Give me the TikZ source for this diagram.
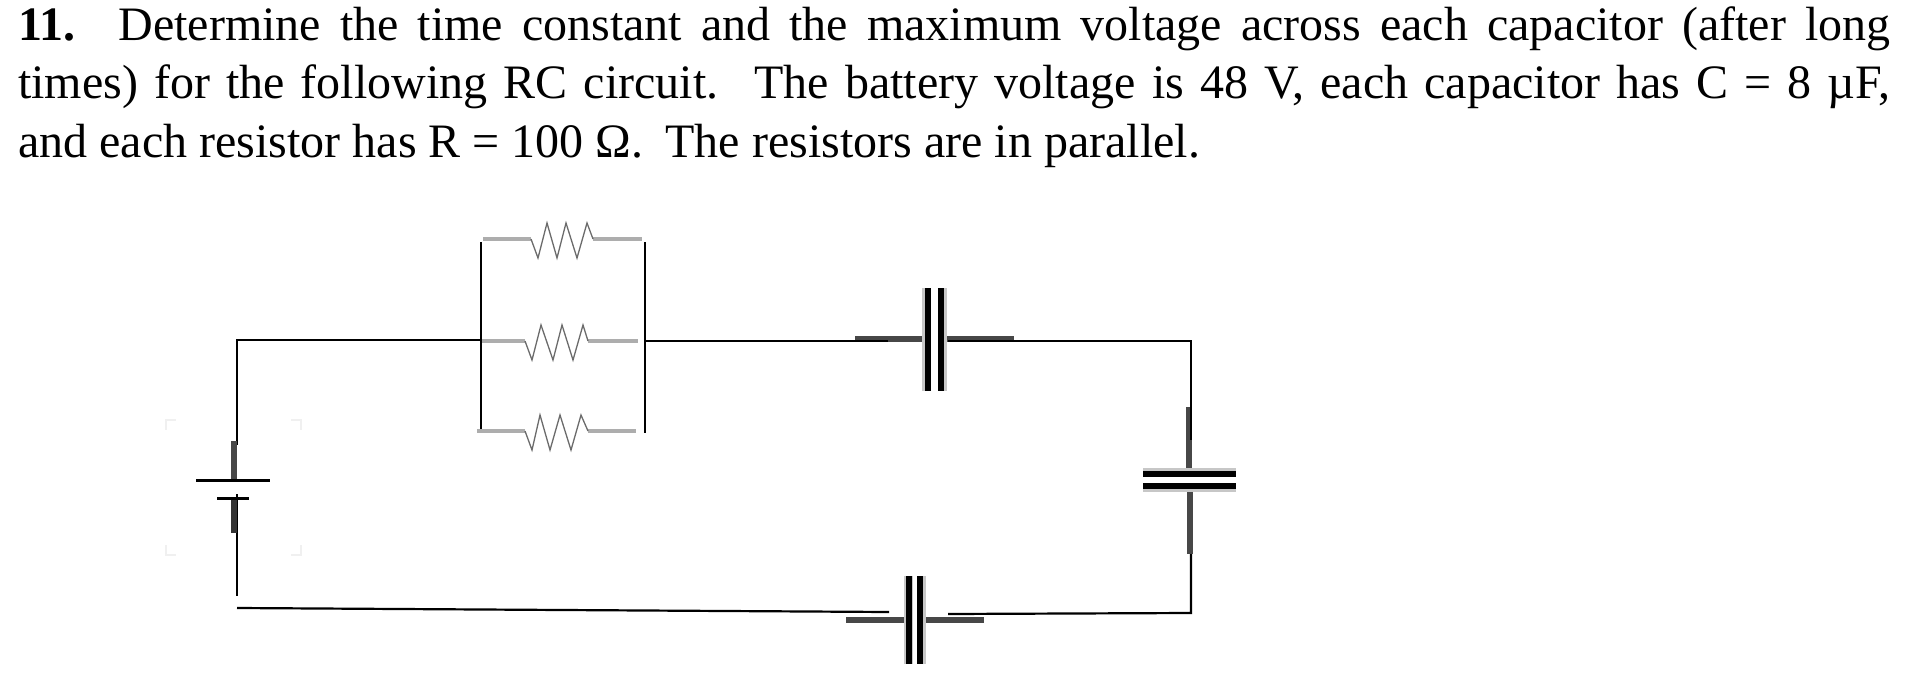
\documentclass[tikz,border=0pt]{standalone}
\usepackage{fontspec}
\setmainfont{Liberation Serif}
\tikzset{
  wire/.style={line width=2.2pt, black},
  lead/.style={line width=3.2pt, black!32},
  plate/.style={line width=5.4pt, black},
  halo/.style={line width=9pt, black!22},
  capwire/.style={line width=6pt, black!72},
  resistor/.style={line width=1.3pt, black!58, line join=miter},
  cropmark/.style={line width=2.4pt, black!6},
  textline/.style={anchor=base west, inner sep=0pt, font=\fontsize{48pt}{48pt}\selectfont}
}
\begin{document}
\begin{tikzpicture}[x=1pt,y=-1pt]
\useasboundingbox (0,0) rectangle (1924,688);
\node[textline] (line1) at (18,40) {\makebox[1872pt][s]{\textbf{11.}\hspace{6pt} Determine the time constant and the maximum voltage across each capacitor (after long}};
\node[textline] (line2) at (18,98) {\makebox[1872pt][s]{times) for the following RC circuit.\hspace{8pt} The battery voltage is 48 V, each capacitor has C = 8 µF,}};
\node[textline] (line3) at (18,157) {and each resistor has R = 100 Ω.\hspace{10pt} The resistors are in parallel.};

% corners of the loop
\coordinate (TL) at (237,340);
\coordinate (TR) at (1191,341);
\coordinate (BL) at (237,608);
\coordinate (BR) at (1191,613);
\coordinate (PL) at (481,340);
\coordinate (PR) at (645,341);

% faint marks round the battery
\draw[cropmark] (176,420) -- (166,420) -- (166,430);
\draw[cropmark] (291,420) -- (301,420) -- (301,430);
\draw[cropmark] (166,545) -- (166,555) -- (176,555);
\draw[cropmark] (301,545) -- (301,555) -- (291,555);

% the loop
\draw[wire] (237,445) -- (TL) -- (PL);
\draw[wire] (PR) -- (888,341);
\draw[wire] (948,341) -- (TR) -- (1191,440);
\draw[wire] (1191,497) -- (BR) -- (948,614);
\draw[wire] (BL) -- (889,612);
\draw[wire] (237,494) -- (237,596);

% top capacitor
\draw[capwire] (855,339) -- (925,339);
\draw[capwire] (944,339) -- (1014,339);
\draw[wire] (855,341) -- (888,341);
\draw[wire] (948,341) -- (1014,341);
\draw[halo] (926.5,288) -- (926.5,391);
\draw[halo] (942.5,288) -- (942.5,391);
\draw[plate] (928,288) -- (928,391);
\draw[plate] (941,288) -- (941,391);

% right capacitor
\draw[capwire] (1189,407) -- (1189,470);
\draw[capwire] (1190,490) -- (1190,554);
\draw[halo] (1143,472.5) -- (1236,472.5);
\draw[halo] (1143,487.5) -- (1236,487.5);
\draw[plate] (1143,474) -- (1236,474);
\draw[plate] (1143,486) -- (1236,486);
\draw[wire] (1191,407) -- (1191,440);

% bottom capacitor
\draw[capwire] (846,620) -- (906,620);
\draw[capwire] (923,620) -- (984,620);
\draw[halo] (908,576) -- (908,664);
\draw[halo] (921.5,576) -- (921.5,664);
\draw[plate] (909,576) -- (909,664);
\draw[plate] (920,576) -- (920,664);

% battery
\draw[line width=6pt, black!72] (234,441) -- (234,479);
\draw[line width=6pt, black!80] (234,498) -- (234,533);
\draw[line width=3pt] (196,480) -- (270,480);
\draw[line width=3pt] (217,498) -- (249,498);

% the resistors
\draw[wire] (PL |- 0,242) -- (PL |- 0,431);
\draw[wire] (PR |- 0,242) -- (PR |- 0,433);
\draw[lead] (483,239) -- (531,239);
\draw[lead] (593,239) -- (642,239);
\draw[resistor] (531,239) -- (538,258) -- (547,223) -- (557,258) -- (566,223) -- (577,258) -- (587,223) -- (593,239);
\draw[lead] (482,341) -- (525,341);
\draw[lead] (588,341) -- (638,341);
\draw[resistor] (525,341) -- (532,360) -- (541,325) -- (553,360) -- (562,325) -- (573,360) -- (583,325) -- (588,341);
\draw[lead] (477,431) -- (525,431);
\draw[lead] (588,431) -- (636,431);
\draw[resistor] (525,431) -- (532,450) -- (540,415) -- (550,450) -- (560,415) -- (571,450) -- (581,415) -- (588,431);
\end{tikzpicture}
\end{document}
